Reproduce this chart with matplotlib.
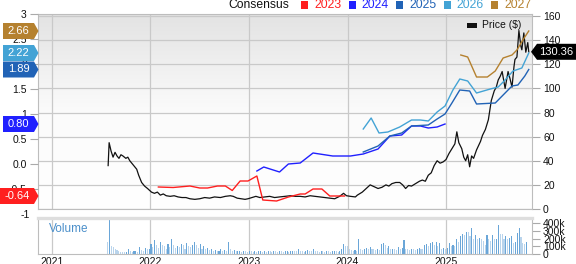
import matplotlib
matplotlib.use("Agg")
import matplotlib.pyplot as plt
import numpy as np
import pandas as pd
from matplotlib.patches import Polygon, Rectangle
from matplotlib.colors import LinearSegmentedColormap

plt.rcParams['font.family'] = ['Liberation Sans', 'DejaVu Sans']

# --- DATA (time as decimal years) ---
price_t = [2021.57, 2021.58, 2021.60, 2021.62, 2021.64, 2021.66, 2021.68, 2021.70, 2021.72, 2021.75,
           2021.77, 2021.79, 2021.81, 2021.84, 2021.86, 2021.88, 2021.91, 2021.94, 2021.97, 2022.01,
           2022.04, 2022.07, 2022.10, 2022.13, 2022.16, 2022.20, 2022.24, 2022.28, 2022.32, 2022.36,
           2022.40, 2022.45, 2022.50, 2022.55, 2022.60, 2022.65, 2022.71, 2022.76, 2022.81, 2022.84,
           2022.88, 2022.92, 2022.96, 2022.99, 2023.03, 2023.07, 2023.11, 2023.16, 2023.21, 2023.26,
           2023.31, 2023.37, 2023.42, 2023.47, 2023.52, 2023.57, 2023.62, 2023.67, 2023.72, 2023.77,
           2023.82, 2023.87, 2023.92, 2023.96, 2023.99, 2024.03, 2024.08, 2024.10, 2024.15, 2024.19,
           2024.23, 2024.27, 2024.31, 2024.35, 2024.39, 2024.42, 2024.45, 2024.49, 2024.53, 2024.56,
           2024.59, 2024.62, 2024.65, 2024.69, 2024.73, 2024.76, 2024.79, 2024.82, 2024.85, 2024.88,
           2024.91, 2024.94, 2024.97, 2025.00, 2025.03, 2025.06, 2025.09, 2025.11, 2025.13, 2025.16,
           2025.18, 2025.20, 2025.22, 2025.24, 2025.26, 2025.28, 2025.31, 2025.35, 2025.37, 2025.40,
           2025.43, 2025.46, 2025.49, 2025.51, 2025.53, 2025.55, 2025.57, 2025.60, 2025.63, 2025.65,
           2025.67, 2025.69, 2025.70, 2025.72, 2025.74, 2025.76, 2025.77, 2025.79, 2025.81, 2025.83,
           2025.84]
price = [36, 55, 48, 43, 47, 44, 42, 45, 44, 42,
         43, 40, 38, 35, 33, 28, 22, 19, 17, 14,
         13, 14, 11.5, 12.5, 11, 10.5, 11, 10, 9.5, 9.5,
         8.5, 8, 8.5, 9.5, 9, 10, 9.5, 10.5, 11, 10.5,
         9, 8.5, 8, 8.5, 9.5, 10.5, 9.5, 10, 10.5, 9.5,
         10, 10.5, 11, 10.5, 10.5, 10, 11, 10.5, 10, 9.5,
         9, 8.5, 10.5, 13, 11, 10.5, 10, 11.5, 14, 17,
         20, 18.5, 17, 18, 20, 19, 21, 22, 22, 20,
         17, 19.5, 19, 21, 23, 24, 23, 28, 30, 36,
         40, 38, 39, 41, 46, 50, 54, 64, 55, 50,
         43, 40, 45, 35, 44, 42, 49, 56, 61, 66,
         74, 90, 98, 101, 107, 110, 114, 100, 114, 108,
         101, 118, 124, 126, 148, 135, 132, 146, 130, 138,
         130.36]

eps23_t = [2022.08, 2022.23, 2022.40, 2022.50, 2022.58, 2022.68, 2022.76, 2022.83, 2022.91, 2022.99,
           2023.08, 2023.14, 2023.28, 2023.40, 2023.52, 2023.57, 2023.65, 2023.74, 2023.82, 2023.97]
eps23 = [-0.46, -0.47, -0.44, -0.48, -0.48, -0.44, -0.44, -0.53, -0.34, -0.34,
         -0.24, -0.72, -0.74, -0.66, -0.60, -0.60, -0.50, -0.50, -0.64, -0.64]

eps24_t = [2023.08, 2023.15, 2023.31, 2023.40, 2023.52, 2023.65, 2023.85, 2024.03, 2024.16, 2024.31,
           2024.43, 2024.55, 2024.65, 2024.74, 2024.82, 2024.91, 2024.99]
eps24 = [-0.14, -0.06, -0.16, 0.0, 0.02, 0.22, 0.16, 0.16, 0.20, 0.30,
         0.56, 0.58, 0.76, 0.76, 0.72, 0.74, 0.80]

eps25_t = [2024.16, 2024.31, 2024.43, 2024.55, 2024.65, 2024.82, 2024.91, 2024.99, 2025.06, 2025.14,
           2025.24, 2025.31, 2025.50, 2025.67, 2025.73, 2025.80, 2025.84]
eps25 = [0.24, 0.36, 0.56, 0.62, 0.76, 0.78, 0.90, 1.00, 1.22, 1.48,
         1.46, 1.20, 1.22, 1.56, 1.58, 1.76, 1.89]

eps26_t = [2024.16, 2024.24, 2024.32, 2024.41, 2024.53, 2024.65, 2024.74, 2024.82, 2024.91, 2024.99,
           2025.07, 2025.14, 2025.22, 2025.31, 2025.45, 2025.53, 2025.60, 2025.68, 2025.77, 2025.84]
eps26 = [0.70, 0.92, 0.62, 0.64, 0.74, 0.88, 0.88, 0.86, 1.04, 1.16,
         1.48, 1.70, 1.66, 1.42, 1.50, 1.54, 1.68, 1.86, 1.92, 2.22]

eps27_t = [2025.15, 2025.22, 2025.31, 2025.42, 2025.50, 2025.58, 2025.67, 2025.72, 2025.78, 2025.84]
eps27 = [2.18, 2.14, 1.74, 1.74, 1.86, 2.12, 2.18, 2.28, 2.48, 2.66]

# weekly volume (thousands), first week starting 2021-07-26
volume_start = "2021-07-26"
vol_2021 = [150, 440, 100, 85, 60, 50, 40, 30, 30, 25, 30, 70, 40, 30, 35, 45, 30, 90, 50, 40, 80, 60, 70]
vol_2022 = [130, 90, 185, 120, 80, 150, 110, 100, 70, 130, 90, 200, 110, 80, 100, 90, 130, 110, 70, 140,
            100, 90, 120, 150, 110, 80, 130, 70, 100, 60, 80, 50, 60, 40, 50, 40, 45, 60, 40, 50,
            35, 150, 70, 40, 50, 35, 40, 45, 30, 40, 35, 30]
vol_2023 = [40, 35, 30, 45, 30, 35, 40, 30, 35, 30, 40, 35, 30, 45, 35, 30, 40, 35, 30, 35,
            40, 30, 35, 45, 40, 35, 70, 40, 35, 30, 45, 55, 40, 35, 60, 45, 35, 30, 40, 35,
            30, 40, 35, 30, 35, 40, 35, 30, 35, 70, 130, 100]
vol_2024 = [100, 60, 50, 45, 50, 40, 200, 60, 50, 70, 80, 60, 90, 70, 60, 50, 60, 55, 130, 140,
            110, 80, 100, 60, 70, 60, 50, 90, 70, 80, 180, 70, 60, 50, 70, 60, 50, 60, 80, 70,
            60, 120, 130, 100, 140, 150, 110, 160, 100, 140, 70, 80]
vol_2025 = [70, 80, 140, 100, 120, 100, 200, 150, 230, 260, 250, 280, 280, 230, 330, 190, 250, 200, 210, 200,
            170, 120, 240, 190, 170, 240, 190, 200, 375, 260, 260, 190, 230, 200, 210, 230, 140, 150, 270, 330,
            220, 140, 130, 150]

years = [2021, 2022, 2023, 2024, 2025]
series_colors = {'2023': '#ff1f1f', '2024': '#2020ff', '2025': '#2163b6',
                 '2026': '#43a3d5', '2027': '#b5812f'}
last_price = 130.36

# --- PREP ---
volume = vol_2021 + vol_2022 + vol_2023 + vol_2024 + vol_2025
vdates = pd.date_range(volume_start, periods=len(volume), freq="7D")
vol_t = (vdates.year + (vdates.dayofyear - 1) / np.where(vdates.is_leap_year, 366, 365)).values
vol_colors = ['#6aa6d8' if i > 0 and v > volume[i - 1] else '#b9d4ec' for i, v in enumerate(volume)]

W, H = 576, 264
fig = plt.figure(figsize=(W / 100, H / 100), dpi=100)
fig.patch.set_facecolor('white')

def fx(px):
    return px / W

def fy(py):
    return 1 - py / H

X0, X1 = 2020.858, 2025.873
GRID = '#c9c9c9'
SPINE = '#bdbdbd'
TICKS = dict(length=6, width=0.8, color='#aaaaaa', pad=2, labelsize=7.5, labelcolor='#111111')

# --- MAIN PANEL: price axis (right) ---
ax = fig.add_axes([fx(38), fy(209), fx(532) - fx(38), fy(14) - fy(209)])
axe = ax.twinx()  # EPS axis (left)

bg = LinearSegmentedColormap.from_list('bg', ['#ffffff', '#fbfbfb', '#e3e3e3'])
ax.imshow(np.linspace(0, 1, 256).reshape(-1, 1), extent=[0, 1, 0, 1], transform=ax.transAxes,
          cmap=bg, aspect='auto', origin='lower', zorder=0)
ax.plot(price_t, price, color='#111111', lw=0.9, zorder=3)
ax.set_xlim(X0, X1)
ax.set_ylim(0, 161.7)
ax.set_xticks(years)
ax.set_yticks(range(0, 161, 20))
ax.grid(True, color=GRID, lw=0.9, zorder=1)
ax.set_axisbelow(True)
ax.tick_params(axis='y', left=False, labelleft=False, right=True, labelright=True, **TICKS)
ax.tick_params(axis='x', bottom=False, labelbottom=False)
for s in ax.spines.values():
    s.set_color(SPINE)
    s.set_linewidth(0.8)

# price legend
fig.patches.append(Rectangle((fx(467), fy(27.5)), fx(10), 5 / H, transform=fig.transFigure,
                             facecolor='#111111', edgecolor='none'))
fig.text(fx(482), fy(25), 'Price ($)', fontsize=7.5, va='center', ha='left', color='#111111')

axe.plot(eps23_t, eps23, color=series_colors['2023'], lw=1.0)
axe.plot(eps24_t, eps24, color=series_colors['2024'], lw=1.0)
axe.plot(eps25_t, eps25, color=series_colors['2025'], lw=1.0)
axe.plot(eps26_t, eps26, color=series_colors['2026'], lw=1.0)
axe.plot(eps27_t, eps27, color=series_colors['2027'], lw=1.0)
axe.set_xlim(X0, X1)
axe.set_ylim(-0.9, 3.0)
eps_ticks = [-0.5, 0, 0.5, 1, 1.5, 2, 2.5, 3]
axe.set_yticks(eps_ticks)
axe.set_yticklabels(['-0.5', '0.0', '0.5', '1', '1.5', '2', '2.5', '3'])
axe.tick_params(axis='y', left=True, labelleft=True, right=False, labelright=False, **TICKS)
for s in axe.spines.values():
    s.set_visible(False)
fig.text(fx(30), fy(215.5), '-1', fontsize=7.5, ha='right', va='center', color='#111111')

# --- VOLUME PANEL ---
axv = fig.add_axes([fx(38), fy(254), fx(532) - fx(38), fy(218) - fy(254)])
axv.bar(vol_t, volume, width=0.011, color=vol_colors, linewidth=0, zorder=2)
axv.set_xlim(X0, X1)
axv.set_ylim(0, 465)
axv.set_xticks(years)
axv.set_xticklabels([str(y) for y in years])
axv.set_yticks([0, 100, 200, 300, 400])
axv.set_yticklabels(['0', '100k', '200k', '300k', '400k'])
axv.tick_params(axis='y', left=False, labelleft=False, right=True, labelright=True, **TICKS)
axv.tick_params(axis='x', length=0, pad=2, labelsize=7.5, labelcolor='#111111')
axv.grid(True, axis='x', color=GRID, lw=0.9, zorder=1)
axv.set_axisbelow(True)
for s in axv.spines.values():
    s.set_color(SPINE)
    s.set_linewidth(0.8)
axv.spines['top'].set_color('#dedede')
axv.spines['top'].set_linewidth(2.4)
axv.text(0.022, 0.7, 'Volume', transform=axv.transAxes, fontsize=8.5, color='#4b8fca', va='center')

# --- TOP LEGEND ---
fig.text(fx(228), fy(5.5), 'Consensus', fontsize=8.7, va='center', ha='left', color='#111111')
for i, name in enumerate(['2023', '2024', '2025', '2026', '2027']):
    sx = 301 + i * 47.5
    fig.patches.append(Rectangle((fx(sx), fy(9)), fx(7), 8 / H, transform=fig.transFigure,
                                 facecolor=series_colors[name], edgecolor='none'))
    fig.text(fx(sx + 13), fy(5.5), name, fontsize=8.7, va='center', ha='left', color=series_colors[name])

# --- VALUE TAGS ---
fig.canvas.draw()

def tag_y(axis, value):
    return axis.transData.transform((X1, value))[1]

def left_tag(value, label, color, left=3):
    yc = tag_y(axe, value)
    pts = [(left, yc - 8), (34, yc - 8), (38.5, yc), (34, yc + 8), (left, yc + 8)]
    fig.patches.append(Polygon([(fx(px), py / H) for px, py in pts], closed=True,
                               transform=fig.transFigure, facecolor=color, edgecolor='none', zorder=6))
    fig.text(fx((left + 34) / 2), yc / H, label, color='white', fontsize=8, ha='center', va='center', zorder=7)

left_tag(eps27[-1], '2.66', series_colors['2027'])
left_tag(eps26[-1], '2.22', series_colors['2026'])
left_tag(eps25[-1], '1.89', series_colors['2025'])
left_tag(eps24[-1], '0.80', series_colors['2024'])
left_tag(eps23[-1], '-0.64', series_colors['2023'], left=0)

yc = tag_y(ax, last_price)
pts = [(531, yc), (537, yc + 8), (576, yc + 8), (576, yc - 8), (537, yc - 8)]
fig.patches.append(Polygon([(fx(px), py / H) for px, py in pts], closed=True,
                           transform=fig.transFigure, facecolor='#000000', edgecolor='none', zorder=6))
fig.text(fx(556.5), yc / H, f'{last_price:.2f}', color='white', fontsize=8, ha='center', va='center', zorder=7)

fig.savefig('out.png', dpi=100, facecolor='white')
